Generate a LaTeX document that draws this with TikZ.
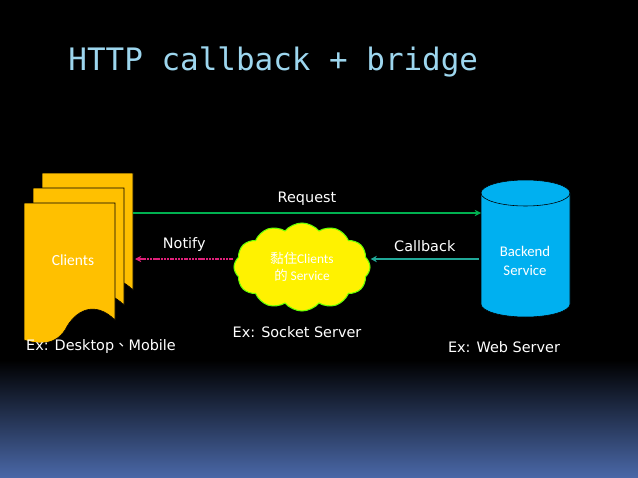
\documentclass[tikz,border=0pt]{standalone}
\usepackage{fontspec}
\setmainfont{DejaVu Sans}
\newfontfamily\monofont{DejaVu Sans Mono}
\newfontfamily\calfont{Carlito}
\newfontfamily\cjk{Noto Sans CJK TC}
\usetikzlibrary{shapes.symbols, arrows.meta}
\definecolor{titleblue}{HTML}{9DD6EE}
\definecolor{docyellow}{HTML}{FFC000}
\definecolor{cylblue}{HTML}{00B0F0}
\definecolor{reqgreen}{HTML}{00B050}
\definecolor{notpink}{HTML}{E0207A}
\definecolor{cbteal}{HTML}{20A898}
\definecolor{bottomblue}{HTML}{4A68A8}
\begin{document}
\begin{tikzpicture}[x=0.5mm, y=-0.5mm]
    % Define display styles
    \tikzset{
        lbl/.style={text=white, font=\fontsize{20.5}{24}\selectfont},
        sheet/.style={draw=black, line width=0.8pt, fill=docyellow},
        link/.style={line width=3pt, -{Stealth[length=9pt, width=9pt]}}
    }

    % Background with gradient at the bottom
    \fill[black] (0,0) rectangle (638,478);
    \shade[top color=black, bottom color=bottomblue] (0,360) rectangle (638,478);
    \useasboundingbox (0,0) rectangle (638,478);

    % Title
    \node[text=titleblue, font=\monofont\fontsize{44}{48}\selectfont, anchor=west] (title) at (66,62) {HTTP callback + bridge};

    % Stack of client sheets
    \foreach \dx in {18, 9, 0}
        \draw[sheet] (24+\dx,203-15*\dx/9) -- (115+\dx,203-15*\dx/9) -- (115+\dx,320-15*\dx/9)
            .. controls (95+\dx,300-15*\dx/9) and (75+\dx,310-15*\dx/9) .. (65+\dx,330-15*\dx/9)
            .. controls (55+\dx,345-15*\dx/9) and (40+\dx,345-15*\dx/9) .. (24+\dx,340-15*\dx/9) -- cycle;
    \node[text=white, font=\calfont\fontsize{22}{26}\selectfont] (clients) at (73,260) {Clients};
    \coordinate (cltop) at (133,213);
    \coordinate (clmid) at (135,259);

    % Backend cylinder
    \fill[cylblue, draw=black, line width=0.8pt] (481,193) -- (481,304) arc[start angle=180, end angle=0, x radius=44.5, y radius=13]
        -- (570,193) arc[start angle=0, end angle=-180, x radius=44.5, y radius=13] -- cycle;
    \draw[black, line width=0.8pt] (481,193) arc[start angle=180, end angle=0, x radius=44.5, y radius=13];
    \node[text=white, font=\calfont\fontsize{21}{27}\selectfont, align=center] (backend) at (525,261) {Backend\\Service};
    \coordinate (betop) at (481,213);
    \coordinate (bemid) at (479,259);

    % Bridge cloud
    \node[cloud, cloud puffs=12, cloud puff arc=100, aspect=1.5, draw=green!60!yellow, line width=1.5pt, fill=yellow,
          minimum width=68mm, minimum height=44mm, inner sep=0pt, text=white, align=center,
          font=\calfont\fontsize{19}{24}\selectfont] (bridge) at (302,267) {{\cjk 黏住}Clients\\{\cjk 的} Service};

    % Connectors
    \draw[link, reqgreen] (cltop) -- (betop) node[lbl, midway, above=6pt] {Request};
    \draw[link, notpink, dash pattern=on 3pt off 1pt] (bridge.west |- clmid) -- (clmid)
        node[lbl, midway, above=6pt] {Notify};
    \draw[link, cbteal] (bemid) -- (bridge.east |- bemid) node[lbl, midway, above=6pt] {Callback};

    % Captions
    \node[lbl] (socket) at (297,332) {Ex: Socket Server};
    \node[lbl] (desktop) at (101,347) {Ex: Desktop{\cjk 、}Mobile};
    \node[lbl] (web) at (504,347) {Ex: Web Server};
\end{tikzpicture}
\end{document}
